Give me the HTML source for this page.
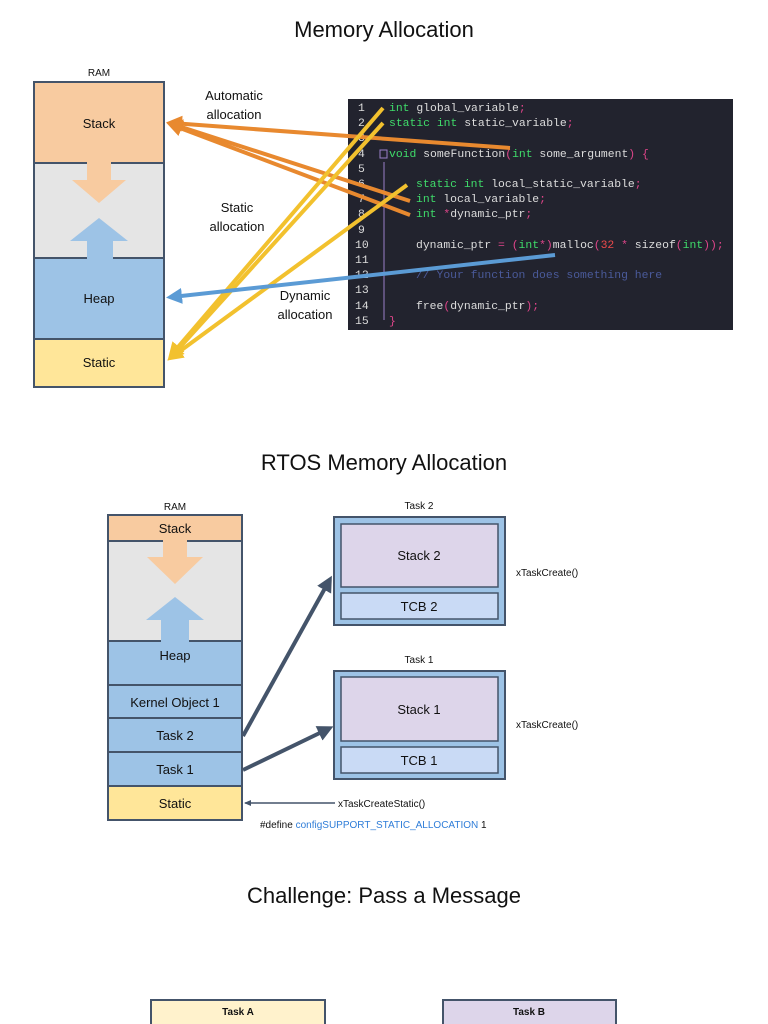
<!DOCTYPE html>
<html><head><meta charset="utf-8"><style>
html,body{margin:0;padding:0;background:#fff;}
svg{display:block;}
.t{font-family:"Liberation Sans",sans-serif;fill:#111;}
.m{font-family:"Liberation Mono",monospace;font-size:11.4px;}
</style></head><body>
<svg width="768" height="1024" viewBox="0 0 768 1024" xmlns="http://www.w3.org/2000/svg">
<defs>
<marker id="ao" markerWidth="4" markerHeight="4" refX="2.5" refY="2" orient="auto" markerUnits="strokeWidth"><path d="M0,0 L4,2 L0,4 Z" fill="#E8892F"/></marker>
<marker id="ay" markerWidth="4" markerHeight="4" refX="2.5" refY="2" orient="auto" markerUnits="strokeWidth"><path d="M0,0 L4,2 L0,4 Z" fill="#F2C12E"/></marker>
<marker id="ab" markerWidth="4" markerHeight="4" refX="2.5" refY="2" orient="auto" markerUnits="strokeWidth"><path d="M0,0 L4,2 L0,4 Z" fill="#5B9BD5"/></marker>
<marker id="ad" markerWidth="4" markerHeight="4" refX="2.5" refY="2" orient="auto" markerUnits="strokeWidth"><path d="M0,0 L4,2 L0,4 Z" fill="#44546A"/></marker>
<marker id="at" markerWidth="8" markerHeight="8" refX="6" refY="4" orient="auto" markerUnits="userSpaceOnUse"><path d="M0,1 L7,4 L0,7 Z" fill="#44546A"/></marker>
</defs>

<!-- Section 1 -->
<text class="t" x="384" y="37" font-size="22" text-anchor="middle">Memory Allocation</text>
<text class="t" x="99" y="76" font-size="10" text-anchor="middle">RAM</text>
<rect x="34" y="82" width="130" height="81" fill="#F8CBA0"/>
<rect x="34" y="163" width="130" height="95" fill="#E5E5E5"/>
<rect x="34" y="258" width="130" height="81" fill="#9DC3E6"/>
<rect x="34" y="339" width="130" height="48" fill="#FFE699"/>
<path d="M87,163 H111 V180 H126 L99,203 L72,180 H87 Z" fill="#F8CBA0"/>
<path d="M87,258 V241 H70 L99,218 L128,241 H113 V258 Z" fill="#9DC3E6"/>
<g stroke="#44546A" stroke-width="2" fill="none">
<rect x="34" y="82" width="130" height="305"/>
<line x1="34" y1="163" x2="87" y2="163"/><line x1="111" y1="163" x2="164" y2="163"/>
<line x1="34" y1="258" x2="87" y2="258"/><line x1="113" y1="258" x2="164" y2="258"/>
<line x1="34" y1="339" x2="164" y2="339"/>
</g>
<text class="t" x="99" y="128" font-size="13" text-anchor="middle">Stack</text>
<text class="t" x="99" y="303" font-size="13" text-anchor="middle">Heap</text>
<text class="t" x="99" y="367" font-size="13" text-anchor="middle">Static</text>

<text class="t" x="234" y="100" font-size="13" text-anchor="middle">Automatic</text>
<text class="t" x="234" y="119" font-size="13" text-anchor="middle">allocation</text>
<text class="t" x="237" y="212" font-size="13" text-anchor="middle">Static</text>
<text class="t" x="237" y="231" font-size="13" text-anchor="middle">allocation</text>
<text class="t" x="305" y="300" font-size="13" text-anchor="middle">Dynamic</text>
<text class="t" x="305" y="319" font-size="13" text-anchor="middle">allocation</text>

<!-- code box -->
<rect x="348" y="99" width="385" height="231" fill="#22232E"/>
<g class="m" fill="#DDDDDD">
<text x="358" y="111">1</text><text x="358" y="126">2</text><text x="358" y="141">3</text><text x="358" y="157">4</text><text x="358" y="172">5</text><text x="358" y="187">6</text><text x="358" y="202">7</text><text x="358" y="217">8</text><text x="358" y="233">9</text><text x="355" y="248">10</text><text x="355" y="263">11</text><text x="355" y="278">12</text><text x="355" y="293">13</text><text x="355" y="309">14</text><text x="355" y="324">15</text>
</g>
<line x1="384" y1="162" x2="384" y2="320" stroke="#9A7FC8" stroke-width="1"/>
<rect x="380" y="150" width="7" height="8" fill="none" stroke="#9A7FC8"/>
<g class="m">
<text x="389" y="111"><tspan fill="#3FDC6A">int</tspan><tspan fill="#DDDDDD"> global_variable</tspan><tspan fill="#E0458A">;</tspan></text>
<text x="389" y="126"><tspan fill="#3FDC6A">static int</tspan><tspan fill="#DDDDDD"> static_variable</tspan><tspan fill="#E0458A">;</tspan></text>
<text x="389" y="157"><tspan fill="#3FDC6A">void</tspan><tspan fill="#DDDDDD"> someFunction</tspan><tspan fill="#E0458A">(</tspan><tspan fill="#3FDC6A">int</tspan><tspan fill="#DDDDDD"> some_argument</tspan><tspan fill="#E0458A">) {</tspan></text>
<text x="416" y="187"><tspan fill="#3FDC6A">static int</tspan><tspan fill="#DDDDDD"> local_static_variable</tspan><tspan fill="#E0458A">;</tspan></text>
<text x="416" y="202"><tspan fill="#3FDC6A">int</tspan><tspan fill="#DDDDDD"> local_variable</tspan><tspan fill="#E0458A">;</tspan></text>
<text x="416" y="217"><tspan fill="#3FDC6A">int</tspan><tspan fill="#E0458A"> *</tspan><tspan fill="#DDDDDD">dynamic_ptr</tspan><tspan fill="#E0458A">;</tspan></text>
<text x="416" y="248"><tspan fill="#DDDDDD">dynamic_ptr </tspan><tspan fill="#E0458A">= (</tspan><tspan fill="#3FDC6A">int</tspan><tspan fill="#E0458A">*)</tspan><tspan fill="#DDDDDD">malloc</tspan><tspan fill="#E0458A">(</tspan><tspan fill="#F04A4A">32</tspan><tspan fill="#E0458A"> * </tspan><tspan fill="#DDDDDD">sizeof</tspan><tspan fill="#E0458A">(</tspan><tspan fill="#3FDC6A">int</tspan><tspan fill="#E0458A">));</tspan></text>
<text x="416" y="278" fill="#4A5A9A">// Your function does something here</text>
<text x="416" y="309"><tspan fill="#DDDDDD">free</tspan><tspan fill="#E0458A">(</tspan><tspan fill="#DDDDDD">dynamic_ptr</tspan><tspan fill="#E0458A">);</tspan></text>
<text x="389" y="324" fill="#E0458A">}</text>
</g>

<!-- arrows section 1 -->
<g stroke-width="4" fill="none">
<line x1="510" y1="148" x2="172" y2="123" stroke="#E8892F" marker-end="url(#ao)"/>
<line x1="410" y1="201" x2="172" y2="124" stroke="#E8892F" marker-end="url(#ao)"/>
<line x1="410" y1="215" x2="172" y2="125" stroke="#E8892F" marker-end="url(#ao)"/>
<line x1="383" y1="108" x2="172" y2="354" stroke="#F2C12E" marker-end="url(#ay)"/>
<line x1="383" y1="123" x2="172" y2="356" stroke="#F2C12E" marker-end="url(#ay)"/>
<line x1="407" y1="185" x2="172" y2="357" stroke="#F2C12E" marker-end="url(#ay)"/>
<line x1="555" y1="255" x2="172" y2="297" stroke="#5B9BD5" marker-end="url(#ab)"/>
</g>

<!-- Section 2 -->
<text class="t" x="384" y="470" font-size="22" text-anchor="middle">RTOS Memory Allocation</text>
<text class="t" x="175" y="510" font-size="10" text-anchor="middle">RAM</text>
<rect x="108" y="515" width="134" height="26" fill="#F8CBA0"/>
<rect x="108" y="541" width="134" height="100" fill="#E5E5E5"/>
<rect x="108" y="641" width="134" height="145" fill="#9DC3E6"/>
<rect x="108" y="786" width="134" height="34" fill="#FFE699"/>
<path d="M163,541 H187 V557 H203 L175,584 L147,557 H163 Z" fill="#F8CBA0"/>
<path d="M161,641 V620 H146 L175,597 L204,620 H189 V641 Z" fill="#9DC3E6"/>
<g stroke="#44546A" stroke-width="2" fill="none">
<rect x="108" y="515" width="134" height="305"/>
<line x1="108" y1="541" x2="163" y2="541"/><line x1="187" y1="541" x2="242" y2="541"/>
<line x1="108" y1="641" x2="161" y2="641"/><line x1="189" y1="641" x2="242" y2="641"/>
<line x1="108" y1="685" x2="242" y2="685"/>
<line x1="108" y1="718" x2="242" y2="718"/>
<line x1="108" y1="752" x2="242" y2="752"/>
<line x1="108" y1="786" x2="242" y2="786"/>
</g>
<g class="t" font-size="13" text-anchor="middle">
<text x="175" y="533">Stack</text>
<text x="175" y="660">Heap</text>
<text x="175" y="707">Kernel Object 1</text>
<text x="175" y="740">Task 2</text>
<text x="175" y="774">Task 1</text>
<text x="175" y="808">Static</text>
</g>

<text class="t" x="419" y="509" font-size="10" text-anchor="middle">Task 2</text>
<rect x="334" y="517" width="171" height="108" fill="#9DC3E6" stroke="#44546A" stroke-width="2"/>
<rect x="341" y="524" width="157" height="63" fill="#DDD5EA" stroke="#44546A" stroke-width="1.5"/>
<rect x="341" y="593" width="157" height="26" fill="#C9DAF5" stroke="#44546A" stroke-width="1.5"/>
<text class="t" x="419" y="560" font-size="13" text-anchor="middle">Stack 2</text>
<text class="t" x="419" y="611" font-size="13" text-anchor="middle">TCB 2</text>
<text class="t" x="516" y="576" font-size="10">xTaskCreate()</text>

<text class="t" x="419" y="663" font-size="10" text-anchor="middle">Task 1</text>
<rect x="334" y="671" width="171" height="108" fill="#9DC3E6" stroke="#44546A" stroke-width="2"/>
<rect x="341" y="677" width="157" height="64" fill="#DDD5EA" stroke="#44546A" stroke-width="1.5"/>
<rect x="341" y="747" width="157" height="26" fill="#C9DAF5" stroke="#44546A" stroke-width="1.5"/>
<text class="t" x="419" y="714" font-size="13" text-anchor="middle">Stack 1</text>
<text class="t" x="419" y="765" font-size="13" text-anchor="middle">TCB 1</text>
<text class="t" x="516" y="728" font-size="10">xTaskCreate()</text>

<line x1="243" y1="736" x2="329" y2="581" stroke="#44546A" stroke-width="4" marker-end="url(#ad)"/>
<line x1="243" y1="770" x2="328" y2="729" stroke="#44546A" stroke-width="4" marker-end="url(#ad)"/>
<line x1="335" y1="803" x2="245" y2="803" stroke="#44546A" stroke-width="1.5" marker-end="url(#at)"/>
<text class="t" x="338" y="807" font-size="10">xTaskCreateStatic()</text>
<text class="t" x="260" y="828" font-size="10">#define <tspan fill="#2F7DD8">configSUPPORT_STATIC_ALLOCATION</tspan> 1</text>

<!-- Section 3 -->
<text class="t" x="384" y="903" font-size="22" text-anchor="middle">Challenge: Pass a Message</text>
<rect x="151" y="1000" width="174" height="40" fill="#FFF2CC" stroke="#44546A" stroke-width="2"/>
<rect x="443" y="1000" width="173" height="40" fill="#DDD5EA" stroke="#44546A" stroke-width="2"/>
<text class="t" x="238" y="1015" font-size="10" font-weight="bold" text-anchor="middle">Task A</text>
<text class="t" x="529" y="1015" font-size="10" font-weight="bold" text-anchor="middle">Task B</text>
</svg>
</body></html>
